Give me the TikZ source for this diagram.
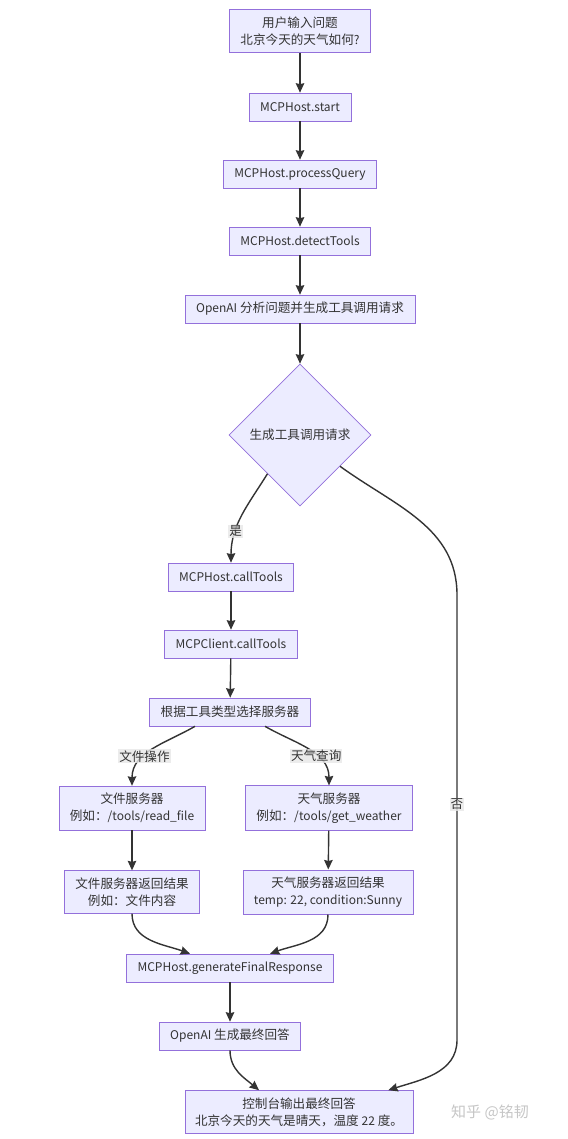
\documentclass[tikz,border=0pt]{standalone}
\usepackage{fontspec}
\setmainfont{Noto Sans CJK SC}
\usepackage{tikz}
\usetikzlibrary{calc,arrows.meta,shapes.geometric}
\definecolor{boxfill}{HTML}{ECECFF}
\definecolor{boxline}{HTML}{9370DB}
\definecolor{ink}{HTML}{333333}
\definecolor{lblbg}{HTML}{E8E8E8}
% latin runs a little smaller than the CJK text
\newcommand{\en}[1]{{\fontsize{12}{17}\selectfont #1}}

\begin{document}
\begin{tikzpicture}[x=1pt,y=-1pt,>={Stealth[length=9.5pt,width=8.5pt,inset=1pt]},
  every node/.style={font=\fontsize{12.6}{17}\selectfont,text=ink},
  box/.style={draw=boxline,fill=boxfill,line width=0.6pt,align=center,
    inner xsep=11pt,inner ysep=7pt,minimum height=28pt},
  decision/.style={diamond,draw=boxline,fill=boxfill,line width=0.6pt,
    inner sep=0pt,minimum width=142pt,minimum height=142pt},
  arr/.style={->,draw=ink,line width=1.4pt},
  lbl/.style={fill=lblbg,fill opacity=0.8,text opacity=1,inner sep=1pt}]
  % page
  \useasboundingbox[fill=white] (0,0) rectangle (567,1139);
  % main column
  \node[box] (ask) at (300,31) {用户输入问题\\北京今天的天气如何\en{?}};
  \node[box] (start) at (300,107) {\en{MCPHost.start}};
  \node[box] (query) at (300,174) {\en{MCPHost.processQuery}};
  \node[box] (detect) at (300,241) {\en{MCPHost.detectTools}};
  \node[box] (analyse) at (300,309) {\en{OpenAI} 分析问题并生成工具调用请求};
  \node[decision] (dec) at (300,435) {生成工具调用请求};
  % tool call branch
  \node[box] (hostcall) at (231,577) {\en{MCPHost.callTools}};
  \node[box] (clientcall) at (231,644) {\en{MCPClient.callTools}};
  \node[box] (select) at (230,712) {根据工具类型选择服务器};
  \node[box] (filesrv) at (132,808) {文件服务器\\例如：\en{/tools/read\_file}};
  \node[box] (wxsrv) at (329,808) {天气服务器\\例如：\en{/tools/get\_weather}};
  \node[box] (fileres) at (132,892) {文件服务器返回结果\\例如：文件内容};
  \node[box] (wxres) at (328,892) {天气服务器返回结果\\\en{temp: 22, condition:Sunny}};
  \node[box] (final) at (230,968) {\en{MCPHost.generateFinalResponse}};
  \node[box] (answer) at (230,1036) {\en{OpenAI} 生成最终回答};
  \node[box,inner xsep=10pt] (console) at (299,1112) {控制台输出最终回答\\北京今天的天气是晴天，温度 \en{22} 度。};
  % straight links
  \draw[arr] (ask) -- (start);
  \draw[arr] (start) -- (query);
  \draw[arr] (query) -- (detect);
  \draw[arr] (detect) -- (analyse);
  \draw[arr] (analyse) -- (dec);
  \draw[arr] (hostcall) -- (clientcall);
  \draw[arr] (clientcall) -- (select);
  \draw[arr] (filesrv) -- (fileres);
  \draw[arr] (wxsrv) -- (wxres);
  \draw[arr] (final) -- (answer);
  % decision branches
  \draw[arr] (dec.-130) to[out=-122,in=90]
    node[lbl,pos=0.68] {是} (hostcall.north);
  \draw[arr] (dec.-38) to[out=-36,in=90] (457,595)
    -- node[lbl,pos=0.47] {否} (457,1040)
    to[out=-90,in=18] ($(console.north east)+(-25,0)$);
  % server choice
  \draw[arr] ($(select.south)+(-35,0)$) to[out=-150,in=90]
    node[lbl,pos=0.62] {文件操作} (filesrv.north);
  \draw[arr] ($(select.south)+(35,0)$) to[out=-30,in=90]
    node[lbl,pos=0.62] {天气查询} (wxsrv.north);
  % merge
  \draw[arr] (fileres.south) to[out=-90,in=160] ($(final.north)+(-40,0)$);
  \draw[arr] (wxres.south) to[out=-90,in=20] ($(final.north)+(40,0)$);
  \draw[arr] (answer.south) to[out=-90,in=140] ($(console.north)+(-40,0)$);
  % watermark
  \node[text=gray!45,font=\fontsize{15}{18}\selectfont] (mark) at (490,1112) {知乎 @铭韧};
\end{tikzpicture}
\end{document}
